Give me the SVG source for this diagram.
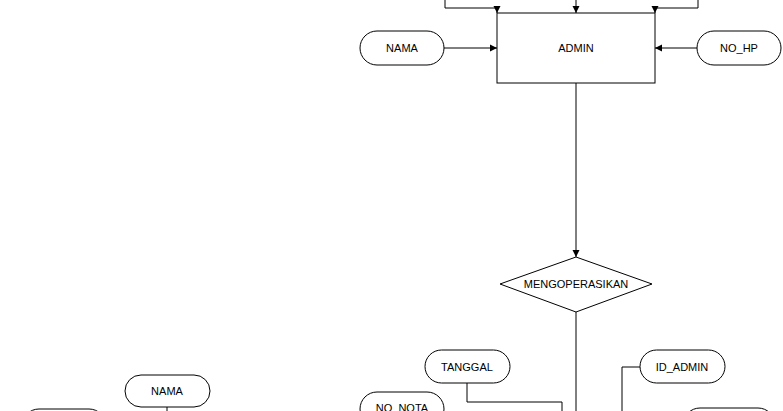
<svg xmlns="http://www.w3.org/2000/svg" width="783" height="411" viewBox="0 0 783 411">
<defs><marker id="a" markerWidth="8" markerHeight="8" refX="7" refY="4" orient="auto" markerUnits="userSpaceOnUse"><path d="M0,0.5 L7,4 L0,7.5Z" fill="#000"/></marker>
<style>.s{fill:#fff;stroke:#000;stroke-width:1}.l{fill:none;stroke:#000;stroke-width:1}.t{font-family:"Liberation Sans",Arial,sans-serif;font-size:11px;text-anchor:middle;dominant-baseline:central}</style></defs>
<rect width="783" height="411" fill="#fff"/>
<g id="connectors">
<path class="l" d="M445,0V8H497V13" marker-end="url(#a)"/>
<path class="l" d="M576,0V13" marker-end="url(#a)"/>
<path class="l" d="M698,0V8H655V13" marker-end="url(#a)"/>
<path class="l" d="M444,48H497" marker-end="url(#a)"/>
<path class="l" d="M697,48H655" marker-end="url(#a)"/>
<path class="l" d="M576,83V257" marker-end="url(#a)"/>
<path class="l" d="M576,312V411"/>
<path class="l" d="M467,383V402H562V411"/>
<path class="l" d="M640,367H622V411"/>
<path class="l" d="M167,407V411"/>
</g>
<g id="admin"><rect class="s" x="497" y="13" width="158" height="70"/><text class="t" x="576" y="48">ADMIN</text></g>
<g id="nama"><rect class="s" x="360" y="31" width="84" height="34" rx="17"/><text class="t" x="402" y="48">NAMA</text></g>
<g id="nohp"><rect class="s" x="697" y="31" width="84" height="34" rx="17"/><text class="t" x="739" y="48">NO_HP</text></g>
<g id="mengoperasikan"><path class="s" d="M576,257L652,284L576,312L500,284Z"/><text class="t" x="576" y="284">MENGOPERASIKAN</text></g>
<g id="tanggal"><rect class="s" x="425" y="350" width="85" height="33" rx="16.5"/><text class="t" x="467" y="367">TANGGAL</text></g>
<g id="idadmin"><rect class="s" x="640" y="350" width="85" height="33" rx="16.5"/><text class="t" x="682" y="367">ID_ADMIN</text></g>
<g id="nonota"><rect class="s" x="360" y="392" width="84" height="34" rx="17"/><text class="t" x="402" y="408">NO_NOTA</text></g>
<g id="nama2"><rect class="s" x="125" y="375" width="85" height="32" rx="16"/><text class="t" x="167" y="391">NAMA</text></g>
<g id="p1"><rect class="s" x="683" y="408" width="92" height="34" rx="17"/></g>
<g id="p2"><rect class="s" x="22" y="409" width="84" height="34" rx="17"/></g>
</svg>
